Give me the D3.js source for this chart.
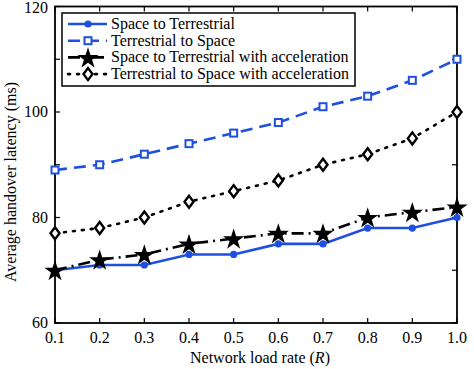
<!DOCTYPE html>
<html><head><meta charset="utf-8">
<script src="https://cdn.jsdelivr.net/npm/d3@7"></script>
<style>body{margin:0;background:#fff}svg{display:block}</style>
</head><body>
<script>
const loadRates = [0.1,0.2,0.3,0.4,0.5,0.6,0.7,0.8,0.9,1.0];
const spaceToTerrestrial = [70,71,71,73,73,75,75,78,78,80];
const terrestrialToSpace = [89,90,92,94,96,98,101,103,106,110];
const spaceToTerrestrialAcc = [70,72,73,75,76,77,77,80,81,82];
const terrestrialToSpaceAcc = [77,78,80,83,85,87,90,92,95,100];
const seriesNames = ["Space to Terrestrial","Terrestrial to Space","Space to Terrestrial with acceleration","Terrestrial to Space with acceleration"];
const xTicks = [0.1,0.2,0.3,0.4,0.5,0.6,0.7,0.8,0.9,1.0];
const yTicks = [60,70,80,90,100,110,120];
const yLabels = [60,80,100,120];

const W=474,H=369;
const L=55,R=457,T=6.5,B=323;
const blue="#1f4fe0";
const svg=d3.select("body").append("svg").attr("width",W).attr("height",H);
const x=d3.scaleLinear().domain([0.1,1.0]).range([L,R]);
const y=d3.scaleLinear().domain([60,120]).range([B,T]);
const font="'Liberation Serif','Times New Roman',serif";

const styles=[
 {color:blue,dash:null,marker:"circle",vals:spaceToTerrestrial},
 {color:blue,dash:"12,7",marker:"square",vals:terrestrialToSpace},
 {color:"#000",dash:"12,5,2,5",marker:"star",vals:spaceToTerrestrialAcc},
 {color:"#000",dash:"2,7",marker:"diamond",vals:terrestrialToSpaceAcc}
];

function drawMarker(g,type,cx,cy,color){
  if(type==="circle") g.append("circle").attr("cx",cx).attr("cy",cy).attr("r",3.6).attr("fill",color);
  else if(type==="square") g.append("rect").attr("x",cx-3.5).attr("y",cy-3.5).attr("width",7).attr("height",7).attr("fill","#fff").attr("stroke",color).attr("stroke-width",2);
  else if(type==="star") g.append("path").attr("d",d3.symbol(d3.symbolStar,140)()).attr("transform",`translate(${cx},${cy+1})`).attr("fill",color);
  else if(type==="diamond") g.append("path").attr("d",`M${cx},${cy-6}L${cx+4.5},${cy}L${cx},${cy+6}L${cx-4.5},${cy}Z`).attr("fill","#fff").attr("stroke",color).attr("stroke-width",2.4);
}

// frame + ticks
const ax=svg.append("g");
xTicks.forEach(t=>{
  ax.append("line").attr("x1",x(t)).attr("x2",x(t)).attr("y1",B).attr("y2",B-5).attr("stroke","#000").attr("stroke-width",1.2);
  ax.append("line").attr("x1",x(t)).attr("x2",x(t)).attr("y1",T).attr("y2",T+5).attr("stroke","#000").attr("stroke-width",1.2);
  ax.append("text").attr("x",x(t)).attr("y",343).attr("text-anchor","middle").attr("font-family",font).attr("font-size",16).text(d3.format(".1f")(t));
});
yTicks.forEach(t=>{
  ax.append("line").attr("x1",L).attr("x2",L+5).attr("y1",y(t)).attr("y2",y(t)).attr("stroke","#000").attr("stroke-width",1.2);
  ax.append("line").attr("x1",R).attr("x2",R-5).attr("y1",y(t)).attr("y2",y(t)).attr("stroke","#000").attr("stroke-width",1.2);
});
yLabels.forEach(t=>{
  ax.append("text").attr("x",48).attr("y",Math.max(y(t)+5,13)).attr("text-anchor","end").attr("font-family",font).attr("font-size",16).text(t);
});
ax.append("rect").attr("x",L).attr("y",T).attr("width",R-L).attr("height",B-T).attr("fill","none").attr("stroke","#000").attr("stroke-width",1.8);

// series
const line=d3.line().x((d,i)=>x(loadRates[i])).y(d=>y(d));
styles.forEach(s=>{
  const g=svg.append("g");
  g.append("path").attr("d",line(s.vals)).attr("fill","none").attr("stroke",s.color).attr("stroke-width",2.6)
   .attr("stroke-dasharray",s.dash).attr("stroke-linecap",s.marker==="diamond"?"round":"butt");
  s.vals.forEach((v,i)=>drawMarker(g,s.marker,x(loadRates[i]),y(v),s.color));
});

// legend
const lg=svg.append("g");
lg.append("rect").attr("x",62).attr("y",13).attr("width",293).attr("height",73).attr("fill","#fff").attr("stroke","#000").attr("stroke-width",1.5);
seriesNames.forEach((n,i)=>{
  const ly=24+i*16.7, s=styles[i];
  lg.append("line").attr("x1",68).attr("x2",107).attr("y1",ly).attr("y2",ly).attr("stroke",s.color).attr("stroke-width",2.6)
    .attr("stroke-dasharray",s.dash).attr("stroke-linecap",s.marker==="diamond"?"round":"butt");
  drawMarker(lg,s.marker,88,ly,s.color);
  lg.append("text").attr("x",111).attr("y",ly+5).attr("font-family",font).attr("font-size",16).text(n);
});

// axis titles
const xt=svg.append("text").attr("x",(L+R)/2+4).attr("y",363).attr("text-anchor","middle").attr("font-family",font).attr("font-size",16);
xt.append("tspan").text("Network load rate (");
xt.append("tspan").attr("font-style","italic").text("R");
xt.append("tspan").text(")");
svg.append("text").attr("transform","translate(16,182) rotate(-90)").attr("text-anchor","middle").attr("font-family",font).attr("font-size",16).text("Average handover latency (ms)");
</script>
</body></html>
